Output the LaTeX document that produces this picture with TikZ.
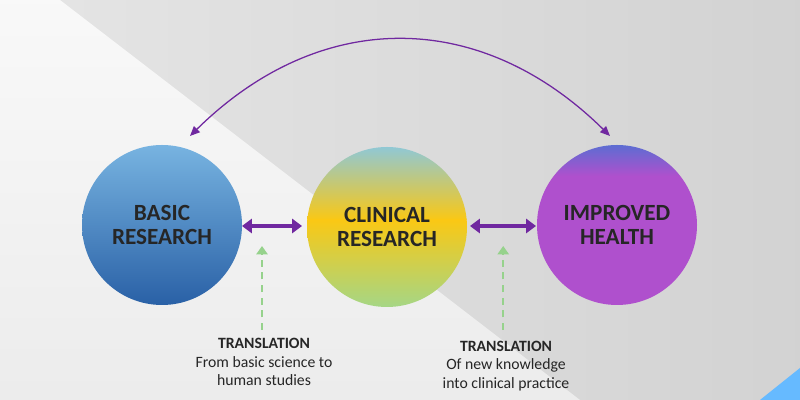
\documentclass[tikz,border=0pt]{standalone}
\usepackage{fontspec}
\setmainfont{Carlito}
\usetikzlibrary{arrows.meta}
\definecolor{purp}{RGB}{112,40,160}
\definecolor{dgreen}{RGB}{150,210,140}
\definecolor{bA}{RGB}{120,180,225}
\definecolor{bB}{RGB}{40,95,165}
\definecolor{cA}{RGB}{140,200,220}
\definecolor{cB}{RGB}{250,200,20}
\definecolor{cC}{RGB}{160,215,140}
\definecolor{iA}{RGB}{90,110,210}
\definecolor{iB}{RGB}{175,80,205}
\tikzset{
  ctext/.style={font=\fontsize{16.5}{17.5}\selectfont\bfseries, text=black!85, align=center},
  btext/.style={font=\fontsize{11.2}{13.2}\selectfont, text=black!85, align=center},
  dbl/.style={{Triangle[length=7pt,width=10pt]}-{Triangle[length=7pt,width=10pt]}, line width=3pt, purp},
  up/.style={-{Triangle[length=6pt,width=8pt]}, line width=1.5pt, dgreen, dash pattern=on 5pt off 4pt},
}
\begin{document}
\begin{tikzpicture}
\useasboundingbox (0,0) rectangle (20,10);
\shade[left color=gray!20, right color=gray!35] (0,0) rectangle (20,10);
\shade[top color=white!95!gray, bottom color=gray!15] (0,10) -- (1.5,10) -- (14.5,0) -- (0,0) -- cycle;
\fill[blue!45!cyan!60] (20,0.8) -- (20,0) -- (19,0) -- cycle;
% circles
\begin{scope}
\clip (4.05,4.375) circle (2);
\shade[top color=bA, bottom color=bB] (2,2.3) rectangle (6.1,6.4);
\end{scope}
\begin{scope}
\clip (9.675,4.325) circle (2);
\shade[top color=cA, bottom color=cB] (7.6,4.5) rectangle (11.8,6.4);
\shade[top color=cB, bottom color=cC] (7.6,2.2) rectangle (11.8,4.51);
\end{scope}
\begin{scope}
\clip (15.425,4.375) circle (2);
\shade[top color=iA, bottom color=iB] (13.3,5.6) rectangle (17.5,6.4);
\fill[iB] (13.3,2.3) rectangle (17.5,5.61);
\end{scope}
\node[ctext] (basic) at (4.05,4.375) {BASIC\\RESEARCH};
\node[ctext] (clin) at (9.675,4.325) {CLINICAL\\RESEARCH};
\node[ctext] (impr) at (15.425,4.375) {IMPROVED\\HEALTH};
\coordinate (b1) at (6.05,4.35); \coordinate (b2) at (7.55,4.35);
\coordinate (c1) at (11.75,4.35); \coordinate (c2) at (13.4,4.35);
\draw[dbl] (b1) -- (b2);
\draw[dbl] (c1) -- (c2);
\coordinate (a1) at (4.75,6.6); \coordinate (a2) at (15.25,6.6);
\draw[purp, line width=0.9pt, {Triangle[length=7pt,width=6pt]}-{Triangle[length=7pt,width=6pt]}] (a1) .. controls (8,9.8) and (12,9.8) .. (a2);
\node[btext] (t1) at (6.6,0.95) {\textbf{TRANSLATION}\\From basic science to\\human studies};
\node[btext] (t2) at (12.65,0.85) {\textbf{TRANSLATION}\\Of new knowledge\\into clinical practice};
\coordinate (u1) at (6.55,1.75); \coordinate (u1t) at (6.55,3.85);
\coordinate (u2) at (12.58,1.75); \coordinate (u2t) at (12.58,3.85);
\draw[up] (u1) -- (u1t);
\draw[up] (u2) -- (u2t);
\end{tikzpicture}
\end{document}
